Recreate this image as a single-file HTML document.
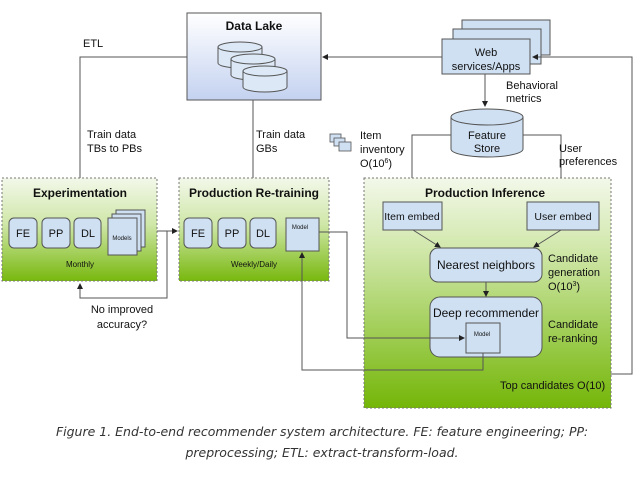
<!DOCTYPE html>
<html><head><meta charset="utf-8"><style>
body{margin:0;background:#fff;width:644px;height:473px;overflow:hidden}
svg text{font-family:"Liberation Sans",sans-serif;fill:#111}
.b{font-weight:bold}
.cap{font-family:"DejaVu Sans","Liberation Sans",sans-serif;font-style:italic;fill:#333;font-size:12.5px}
</style></head><body>
<svg width="644" height="473" viewBox="0 0 644 473" xmlns="http://www.w3.org/2000/svg">
<defs>
<linearGradient id="g" x1="0" y1="0" x2="0" y2="1"><stop offset="0" stop-color="#f3f8ea"/><stop offset="0.45" stop-color="#cfe7a8"/><stop offset="1" stop-color="#78b80e"/></linearGradient>
<linearGradient id="gi" x1="0" y1="0" x2="0" y2="1"><stop offset="0" stop-color="#f3f8ea"/><stop offset="0.3" stop-color="#d2e8ad"/><stop offset="1" stop-color="#74b608"/></linearGradient>
<linearGradient id="dl" x1="0" y1="0" x2="0" y2="1"><stop offset="0" stop-color="#ffffff"/><stop offset="1" stop-color="#c4d2f0"/></linearGradient>
<marker id="a" markerWidth="6" markerHeight="6" refX="5" refY="3" orient="auto"><path d="M0,0 L6,3 L0,6z" fill="#222"/></marker>
</defs>
<g font-size="11">
<!-- Data lake -->
<rect x="187" y="13" width="134" height="87" fill="url(#dl)" stroke="#555"/>
<text x="254" y="30" text-anchor="middle" class="b" font-size="12">Data Lake</text>
<g fill="#dce8f6" stroke="#555">
<path d="M218,47 v16 a22,5 0 0 0 44,0 v-16"/><ellipse cx="240" cy="47" rx="22" ry="5"/>
<path d="M231,59 v16 a22,5 0 0 0 44,0 v-16"/><ellipse cx="253" cy="59" rx="22" ry="5"/>
<path d="M243,71 v16 a22,5 0 0 0 44,0 v-16"/><ellipse cx="265" cy="71" rx="22" ry="5"/>
</g>
<!-- Web services -->
<g fill="#cfe0f3" stroke="#555">
<rect x="462" y="20" width="88" height="35"/><rect x="453" y="29" width="88" height="35"/><rect x="442" y="39" width="88" height="35"/>
</g>
<text x="486" y="56" text-anchor="middle">Web</text>
<text x="486" y="70" text-anchor="middle">services/Apps</text>
<text x="506" y="89">Behavioral</text><text x="506" y="102">metrics</text>
<!-- lines -->
<g stroke="#555" fill="none" stroke-width="1">
<line x1="442" y1="57" x2="323" y2="57" marker-end="url(#a)"/>
<polyline points="187,57 80,57 80,219" marker-end="url(#a)"/>
<line x1="253" y1="100" x2="253" y2="219" marker-end="url(#a)"/>
<line x1="485" y1="74" x2="485" y2="106" marker-end="url(#a)"/>
<polyline points="451,135 412,135 412,200" marker-end="url(#a)"/>
<polyline points="523,135 561,135 561,200" marker-end="url(#a)"/>
<polyline points="485,353 485,374 632,374 632,57 533,57" marker-end="url(#a)"/>
</g>
<text x="83" y="47">ETL</text>
<text x="87" y="138">Train data</text><text x="87" y="152">TBs to PBs</text>
<text x="256" y="138">Train data</text><text x="256" y="152">GBs</text>
<!-- feature store -->
<path d="M451,117 v32 a36,8 0 0 0 72,0 v-32" fill="#cfe0f3" stroke="#555"/>
<ellipse cx="487" cy="117" rx="36" ry="8" fill="#cfe0f3" stroke="#555"/>
<text x="487" y="139" text-anchor="middle">Feature</text><text x="487" y="152" text-anchor="middle">Store</text>
<text x="559" y="152">User</text><text x="559" y="165">preferences</text>
<!-- item inventory icon -->
<g fill="#cfe0f3" stroke="#555" stroke-width="0.8"><rect x="330" y="134" width="11" height="8"/><rect x="334" y="138" width="11" height="8"/><rect x="339" y="142" width="12" height="9"/></g>
<text x="360" y="139">Item</text><text x="360" y="153">inventory</text><text x="360" y="167">O(10<tspan font-size="7" dy="-4">6</tspan><tspan dy="4">)</tspan></text>
<!-- panels -->
<rect x="2" y="178" width="155" height="103" fill="url(#g)" stroke="#777" stroke-dasharray="2,2"/>
<rect x="179" y="178" width="150" height="103" fill="url(#g)" stroke="#777" stroke-dasharray="2,2"/>
<rect x="364" y="178" width="247" height="230" fill="url(#gi)" stroke="#777" stroke-dasharray="2,2"/>
<text x="80" y="197" text-anchor="middle" class="b" font-size="12">Experimentation</text>
<text x="254" y="197" text-anchor="middle" class="b" font-size="12">Production Re-training</text>
<text x="485" y="197" text-anchor="middle" class="b" font-size="12">Production Inference</text>
<g fill="#cfe0f3" stroke="#555">
<rect x="9" y="218" width="28" height="30" rx="5"/><rect x="42" y="218" width="28" height="30" rx="5"/><rect x="74" y="218" width="27" height="30" rx="5"/>
<rect x="116" y="210" width="29" height="37"/><rect x="112" y="214" width="29" height="37"/><rect x="108" y="218" width="29" height="37"/>
<rect x="184" y="218" width="28" height="30" rx="5"/><rect x="218" y="218" width="28" height="30" rx="5"/><rect x="250" y="218" width="26" height="30" rx="5"/>
<rect x="286" y="218" width="33" height="33"/>
<rect x="383" y="202" width="59" height="28"/><rect x="527" y="202" width="72" height="28"/>
<rect x="430" y="248" width="112" height="34" rx="8"/>
<rect x="430" y="297" width="112" height="60" rx="10"/>
<rect x="466" y="323" width="34" height="30"/>
</g>
<g text-anchor="middle">
<text x="23" y="237">FE</text><text x="56" y="237">PP</text><text x="88" y="237">DL</text>
<text x="122" y="240" font-size="6">Models</text>
<text x="198" y="237">FE</text><text x="232" y="237">PP</text><text x="263" y="237">DL</text>
<text x="300" y="229" font-size="6">Model</text>
<text x="80" y="267" font-size="8">Monthly</text><text x="254" y="267" font-size="8">Weekly/Daily</text>
<text x="412" y="220" font-size="10.5">Item embed</text><text x="563" y="220" font-size="10.5">User embed</text>
<text x="486" y="269" font-size="12">Nearest neighbors</text>
<text x="486" y="317" font-size="12">Deep recommender</text>
<text x="482" y="336" font-size="6">Model</text>
<text x="122" y="313">No improved</text><text x="122" y="328">accuracy?</text>
</g>
<text x="548" y="262">Candidate</text><text x="548" y="276">generation</text><text x="548" y="290">O(10<tspan font-size="7" dy="-4">3</tspan><tspan dy="4">)</tspan></text>
<text x="548" y="328">Candidate</text><text x="548" y="342">re-ranking</text>
<text x="500" y="389">Top candidates O(10)</text>
<g stroke="#555" fill="none">
<line x1="413" y1="230" x2="440" y2="247" marker-end="url(#a)"/>
<line x1="561" y1="230" x2="534" y2="247" marker-end="url(#a)"/>
<line x1="486" y1="282" x2="486" y2="296" marker-end="url(#a)"/>
<line x1="157" y1="231" x2="177" y2="231" marker-end="url(#a)"/>
<polyline points="167,231 167,298 80,298 80,284" marker-end="url(#a)"/>
<polyline points="319,232 347,232 347,338 464,338" marker-end="url(#a)"/>
<polyline points="483,353 483,370 302,370 302,253" marker-end="url(#a)"/>
</g>
</g>
<text class="cap" x="322" y="436" text-anchor="middle">Figure 1. End-to-end recommender system architecture. FE: feature engineering; PP:</text>
<text class="cap" x="322" y="457" text-anchor="middle">preprocessing; ETL: extract-transform-load.</text>
</svg>
</body></html>
